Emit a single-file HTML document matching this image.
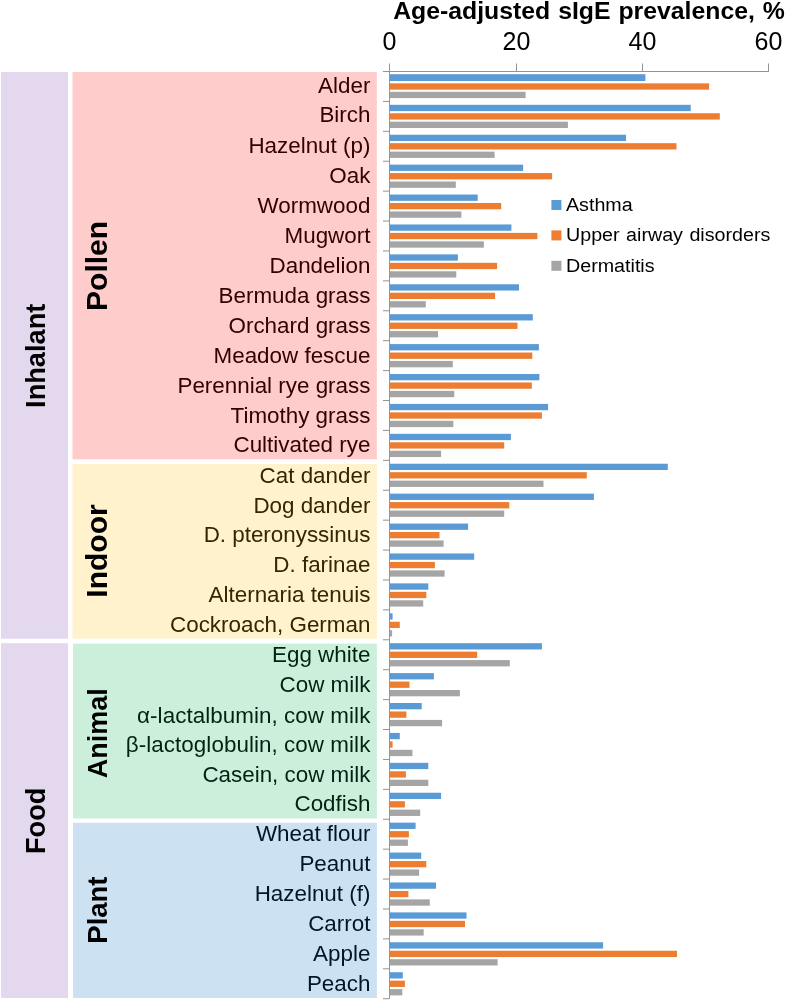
<!DOCTYPE html>
<html lang="en"><head><meta charset="utf-8"><title>Age-adjusted sIgE prevalence</title>
<style>
html,body{margin:0;padding:0;background:#fff;}
body{width:785px;height:1000px;overflow:hidden;}
svg{display:block;font-family:"Liberation Sans",Arial,sans-serif;}
.lab{font-size:22.4px;text-anchor:end;}
.ax{font-size:26.5px;text-anchor:middle;fill:#000;}
.ttl{font-size:24.8px;font-weight:bold;fill:#000;}
.g1{font-size:27.2px;font-weight:bold;text-anchor:middle;fill:#000;}
.g2{font-size:30px;font-weight:bold;text-anchor:middle;fill:#000;}
.leg{font-size:19.2px;fill:#000;}
</style></head><body>
<svg width="785" height="1000" viewBox="0 0 785 1000">
<rect width="785" height="1000" fill="#fff"/>

<rect x="1" y="72" width="67" height="566.7" fill="#E3D8ED"/>
<rect x="1" y="643.2" width="67" height="354.8" fill="#E3D8ED"/>
<rect x="72.5" y="72" width="304.4" height="387.3" fill="#FFCCCC"/>
<rect x="72.5" y="464" width="304.4" height="174.6" fill="#FFF2CC"/>
<rect x="73.0" y="643.6" width="303.9" height="174.9" fill="#CCEFDC"/>
<rect x="73.0" y="822.8" width="303.9" height="175.2" fill="#CCE2F2"/>
<text class="g1" transform="translate(44.7 355.8) rotate(-90)">Inhalant</text>
<text class="g1" transform="translate(44.6 820.8) rotate(-90)">Food</text>
<text class="g2" transform="translate(107.0 265.9) rotate(-90)">Pollen</text>
<text class="g2" transform="translate(107.0 551.0) rotate(-90)">Indoor</text>
<text class="g2" style="font-size:27px" transform="translate(106.5 733.2) rotate(-90)">Animal</text>
<text class="g2" style="font-size:27.5px" transform="translate(106.6 910.1) rotate(-90)">Plant</text>
<text class="ttl" x="393.2" y="18.8" word-spacing="1">Age-adjusted sIgE prevalence, %</text>
<text class="ax" transform="translate(389.5 49.6) scale(0.945 1)">0</text>
<text class="ax" transform="translate(516.5 49.6) scale(0.945 1)">20</text>
<text class="ax" transform="translate(642.5 49.6) scale(0.945 1)">40</text>
<text class="ax" transform="translate(768.5 49.6) scale(0.945 1)">60</text>
<g stroke="#939393" stroke-width="1" fill="none">
<line x1="389.5" y1="63.5" x2="389.5" y2="998.7" stroke="#969696"/>
<line x1="383" y1="71.5" x2="769" y2="71.5"/>
<line x1="516.5" y1="63.5" x2="516.5" y2="71.5"/>
<line x1="642.5" y1="63.5" x2="642.5" y2="71.5"/>
<line x1="768.5" y1="63.5" x2="768.5" y2="71.5"/>
<line x1="383" y1="101.41" x2="389.5" y2="101.41"/>
<line x1="383" y1="131.32" x2="389.5" y2="131.32"/>
<line x1="383" y1="161.23" x2="389.5" y2="161.23"/>
<line x1="383" y1="191.14" x2="389.5" y2="191.14"/>
<line x1="383" y1="221.05" x2="389.5" y2="221.05"/>
<line x1="383" y1="250.96" x2="389.5" y2="250.96"/>
<line x1="383" y1="280.87" x2="389.5" y2="280.87"/>
<line x1="383" y1="310.78" x2="389.5" y2="310.78"/>
<line x1="383" y1="340.69" x2="389.5" y2="340.69"/>
<line x1="383" y1="370.60" x2="389.5" y2="370.60"/>
<line x1="383" y1="400.51" x2="389.5" y2="400.51"/>
<line x1="383" y1="430.42" x2="389.5" y2="430.42"/>
<line x1="383" y1="460.33" x2="389.5" y2="460.33"/>
<line x1="383" y1="490.24" x2="389.5" y2="490.24"/>
<line x1="383" y1="520.15" x2="389.5" y2="520.15"/>
<line x1="383" y1="550.06" x2="389.5" y2="550.06"/>
<line x1="383" y1="579.97" x2="389.5" y2="579.97"/>
<line x1="383" y1="609.88" x2="389.5" y2="609.88"/>
<line x1="383" y1="639.79" x2="389.5" y2="639.79"/>
<line x1="383" y1="669.70" x2="389.5" y2="669.70"/>
<line x1="383" y1="699.61" x2="389.5" y2="699.61"/>
<line x1="383" y1="729.52" x2="389.5" y2="729.52"/>
<line x1="383" y1="759.43" x2="389.5" y2="759.43"/>
<line x1="383" y1="789.34" x2="389.5" y2="789.34"/>
<line x1="383" y1="819.25" x2="389.5" y2="819.25"/>
<line x1="383" y1="849.16" x2="389.5" y2="849.16"/>
<line x1="383" y1="879.07" x2="389.5" y2="879.07"/>
<line x1="383" y1="908.98" x2="389.5" y2="908.98"/>
<line x1="383" y1="938.89" x2="389.5" y2="938.89"/>
<line x1="383" y1="968.80" x2="389.5" y2="968.80"/>
<line x1="383" y1="998.71" x2="389.5" y2="998.71"/>
</g>
<rect x="390.0" y="74.20" width="255.4" height="6.8" fill="#5B9BD5"/>
<rect x="390.0" y="83.35" width="319.1" height="6.3" fill="#ED7D31"/>
<rect x="390.0" y="91.80" width="135.6" height="6.3" fill="#A5A5A5"/>
<text class="lab" x="370.4" y="92.50" fill="#330000">Alder</text>
<rect x="390.0" y="104.81" width="300.7" height="6.3" fill="#5B9BD5"/>
<rect x="390.0" y="113.26" width="329.8" height="6.3" fill="#ED7D31"/>
<rect x="390.0" y="121.71" width="177.9" height="6.3" fill="#A5A5A5"/>
<text class="lab" x="370.4" y="122.31" fill="#330000">Birch</text>
<rect x="390.0" y="134.72" width="236.0" height="6.3" fill="#5B9BD5"/>
<rect x="390.0" y="143.17" width="286.5" height="6.3" fill="#ED7D31"/>
<rect x="390.0" y="151.62" width="104.6" height="6.3" fill="#A5A5A5"/>
<text class="lab" x="370.4" y="152.62" fill="#330000">Hazelnut (p)</text>
<rect x="390.0" y="164.63" width="133.1" height="6.3" fill="#5B9BD5"/>
<rect x="390.0" y="173.08" width="162.1" height="6.3" fill="#ED7D31"/>
<rect x="390.0" y="181.53" width="65.8" height="6.3" fill="#A5A5A5"/>
<text class="lab" x="370.4" y="183.08" fill="#330000">Oak</text>
<rect x="390.0" y="194.54" width="87.7" height="6.3" fill="#5B9BD5"/>
<rect x="390.0" y="202.99" width="111.2" height="6.3" fill="#ED7D31"/>
<rect x="390.0" y="211.44" width="71.4" height="6.3" fill="#A5A5A5"/>
<text class="lab" x="370.4" y="213.14" fill="#330000">Wormwood</text>
<rect x="390.0" y="224.45" width="121.4" height="6.3" fill="#5B9BD5"/>
<rect x="390.0" y="232.90" width="147.4" height="6.3" fill="#ED7D31"/>
<rect x="390.0" y="241.35" width="93.9" height="6.3" fill="#A5A5A5"/>
<text class="lab" x="370.4" y="243.05" fill="#330000">Mugwort</text>
<rect x="390.0" y="254.36" width="67.9" height="6.3" fill="#5B9BD5"/>
<rect x="390.0" y="262.81" width="107.1" height="6.3" fill="#ED7D31"/>
<rect x="390.0" y="271.26" width="66.3" height="6.3" fill="#A5A5A5"/>
<text class="lab" x="370.4" y="272.96" fill="#330000">Dandelion</text>
<rect x="390.0" y="284.27" width="129.0" height="6.3" fill="#5B9BD5"/>
<rect x="390.0" y="292.72" width="105.1" height="6.3" fill="#ED7D31"/>
<rect x="390.0" y="301.17" width="35.8" height="6.3" fill="#A5A5A5"/>
<text class="lab" x="370.4" y="302.87" fill="#330000">Bermuda grass</text>
<rect x="390.0" y="314.18" width="142.8" height="6.3" fill="#5B9BD5"/>
<rect x="390.0" y="322.63" width="127.5" height="6.3" fill="#ED7D31"/>
<rect x="390.0" y="331.08" width="48.0" height="6.3" fill="#A5A5A5"/>
<text class="lab" x="370.4" y="332.78" fill="#330000">Orchard grass</text>
<rect x="390.0" y="344.09" width="148.9" height="6.3" fill="#5B9BD5"/>
<rect x="390.0" y="352.54" width="142.3" height="6.3" fill="#ED7D31"/>
<rect x="390.0" y="360.99" width="62.8" height="6.3" fill="#A5A5A5"/>
<text class="lab" x="370.4" y="362.69" fill="#330000">Meadow fescue</text>
<rect x="390.0" y="374.00" width="149.4" height="6.3" fill="#5B9BD5"/>
<rect x="390.0" y="382.45" width="141.8" height="6.3" fill="#ED7D31"/>
<rect x="390.0" y="390.90" width="64.3" height="6.3" fill="#A5A5A5"/>
<text class="lab" x="370.4" y="392.60" fill="#330000">Perennial rye grass</text>
<rect x="390.0" y="403.91" width="158.1" height="6.3" fill="#5B9BD5"/>
<rect x="390.0" y="412.36" width="151.9" height="6.3" fill="#ED7D31"/>
<rect x="390.0" y="420.81" width="63.3" height="6.3" fill="#A5A5A5"/>
<text class="lab" x="370.4" y="422.51" fill="#330000">Timothy grass</text>
<rect x="390.0" y="433.82" width="120.9" height="6.3" fill="#5B9BD5"/>
<rect x="390.0" y="442.27" width="114.2" height="6.3" fill="#ED7D31"/>
<rect x="390.0" y="450.72" width="51.1" height="6.3" fill="#A5A5A5"/>
<text class="lab" x="370.4" y="452.42" fill="#330000">Cultivated rye</text>
<rect x="390.0" y="463.73" width="277.8" height="6.3" fill="#5B9BD5"/>
<rect x="390.0" y="472.18" width="196.8" height="6.3" fill="#ED7D31"/>
<rect x="390.0" y="480.63" width="153.5" height="6.3" fill="#A5A5A5"/>
<text class="lab" x="370.4" y="482.63" fill="#332600">Cat dander</text>
<rect x="390.0" y="493.64" width="203.9" height="6.3" fill="#5B9BD5"/>
<rect x="390.0" y="502.09" width="119.3" height="6.3" fill="#ED7D31"/>
<rect x="390.0" y="510.54" width="114.2" height="6.3" fill="#A5A5A5"/>
<text class="lab" x="370.4" y="512.54" fill="#332600">Dog dander</text>
<rect x="390.0" y="523.55" width="78.1" height="6.3" fill="#5B9BD5"/>
<rect x="390.0" y="532.00" width="49.5" height="6.3" fill="#ED7D31"/>
<rect x="390.0" y="540.45" width="53.6" height="6.3" fill="#A5A5A5"/>
<text class="lab" x="370.4" y="542.45" fill="#332600">D. pteronyssinus</text>
<rect x="390.0" y="553.46" width="84.2" height="6.3" fill="#5B9BD5"/>
<rect x="390.0" y="561.91" width="44.9" height="6.3" fill="#ED7D31"/>
<rect x="390.0" y="570.36" width="54.6" height="6.3" fill="#A5A5A5"/>
<text class="lab" x="370.4" y="572.36" fill="#332600">D. farinae</text>
<rect x="390.0" y="583.37" width="38.3" height="6.3" fill="#5B9BD5"/>
<rect x="390.0" y="591.82" width="36.3" height="6.3" fill="#ED7D31"/>
<rect x="390.0" y="600.27" width="33.2" height="6.3" fill="#A5A5A5"/>
<text class="lab" x="370.4" y="602.27" fill="#332600">Alternaria tenuis</text>
<rect x="390.0" y="613.28" width="2.6" height="6.3" fill="#5B9BD5"/>
<rect x="390.0" y="621.73" width="9.8" height="6.3" fill="#ED7D31"/>
<rect x="390.0" y="630.18" width="2.1" height="6.3" fill="#A5A5A5"/>
<text class="lab" x="370.4" y="632.18" fill="#332600">Cockroach, German</text>
<rect x="390.0" y="643.19" width="151.9" height="6.3" fill="#5B9BD5"/>
<rect x="390.0" y="651.64" width="87.2" height="6.3" fill="#ED7D31"/>
<rect x="390.0" y="660.09" width="119.8" height="6.3" fill="#A5A5A5"/>
<text class="lab" x="370.4" y="661.79" fill="#002310">Egg white</text>
<rect x="390.0" y="673.10" width="43.9" height="6.3" fill="#5B9BD5"/>
<rect x="390.0" y="681.55" width="19.5" height="6.3" fill="#ED7D31"/>
<rect x="390.0" y="690.00" width="69.9" height="6.3" fill="#A5A5A5"/>
<text class="lab" x="370.4" y="691.70" fill="#002310">Cow milk</text>
<rect x="390.0" y="703.01" width="31.7" height="6.3" fill="#5B9BD5"/>
<rect x="390.0" y="711.46" width="16.4" height="6.3" fill="#ED7D31"/>
<rect x="390.0" y="719.91" width="52.1" height="6.3" fill="#A5A5A5"/>
<text class="lab" letter-spacing="0.06" x="370.4" y="722.51" fill="#002310">α-lactalbumin, cow milk</text>
<rect x="390.0" y="732.92" width="9.8" height="6.3" fill="#5B9BD5"/>
<rect x="390.0" y="741.37" width="2.6" height="6.3" fill="#ED7D31"/>
<rect x="390.0" y="749.82" width="22.5" height="6.3" fill="#A5A5A5"/>
<text class="lab" letter-spacing="0.06" x="370.4" y="752.12" fill="#002310">β-lactoglobulin, cow milk</text>
<rect x="390.0" y="762.83" width="38.3" height="6.3" fill="#5B9BD5"/>
<rect x="390.0" y="771.28" width="15.9" height="6.3" fill="#ED7D31"/>
<rect x="390.0" y="779.73" width="38.3" height="6.3" fill="#A5A5A5"/>
<text class="lab" x="370.4" y="781.68" fill="#002310">Casein, cow milk</text>
<rect x="390.0" y="792.74" width="51.1" height="6.3" fill="#5B9BD5"/>
<rect x="390.0" y="801.19" width="14.9" height="6.3" fill="#ED7D31"/>
<rect x="390.0" y="809.64" width="30.2" height="6.3" fill="#A5A5A5"/>
<text class="lab" x="370.4" y="811.34" fill="#002310">Codfish</text>
<rect x="390.0" y="822.65" width="25.6" height="6.3" fill="#5B9BD5"/>
<rect x="390.0" y="831.10" width="18.9" height="6.3" fill="#ED7D31"/>
<rect x="390.0" y="839.55" width="17.9" height="6.3" fill="#A5A5A5"/>
<text class="lab" x="370.4" y="841.45" fill="#001626">Wheat flour</text>
<rect x="390.0" y="852.56" width="31.2" height="6.3" fill="#5B9BD5"/>
<rect x="390.0" y="861.01" width="36.3" height="6.3" fill="#ED7D31"/>
<rect x="390.0" y="869.46" width="29.1" height="6.3" fill="#A5A5A5"/>
<text class="lab" x="370.4" y="871.16" fill="#001626">Peanut</text>
<rect x="390.0" y="882.47" width="46.0" height="6.3" fill="#5B9BD5"/>
<rect x="390.0" y="890.92" width="18.4" height="6.3" fill="#ED7D31"/>
<rect x="390.0" y="899.37" width="39.8" height="6.3" fill="#A5A5A5"/>
<text class="lab" x="370.4" y="901.37" fill="#001626">Hazelnut (f)</text>
<rect x="390.0" y="912.38" width="76.5" height="6.3" fill="#5B9BD5"/>
<rect x="390.0" y="920.83" width="75.0" height="6.3" fill="#ED7D31"/>
<rect x="390.0" y="929.28" width="33.7" height="6.3" fill="#A5A5A5"/>
<text class="lab" x="370.4" y="930.98" fill="#001626">Carrot</text>
<rect x="390.0" y="942.29" width="213.1" height="6.3" fill="#5B9BD5"/>
<rect x="390.0" y="950.74" width="287.0" height="6.3" fill="#ED7D31"/>
<rect x="390.0" y="959.19" width="107.6" height="6.3" fill="#A5A5A5"/>
<text class="lab" x="370.4" y="960.89" fill="#001626">Apple</text>
<rect x="390.0" y="972.20" width="12.8" height="6.3" fill="#5B9BD5"/>
<rect x="390.0" y="980.65" width="14.9" height="6.3" fill="#ED7D31"/>
<rect x="390.0" y="989.10" width="12.3" height="6.3" fill="#A5A5A5"/>
<text class="lab" x="370.4" y="990.80" fill="#001626">Peach</text>
<rect x="551.4" y="200.0" width="10" height="10" fill="#5B9BD5"/>
<text class="leg" word-spacing="1" transform="translate(566 210.9) scale(1.025 1)">Asthma</text>
<rect x="551.4" y="230.4" width="10" height="10" fill="#ED7D31"/>
<text class="leg" word-spacing="1" transform="translate(566 241.3) scale(1.025 1)">Upper airway disorders</text>
<rect x="551.4" y="260.8" width="10" height="10" fill="#A5A5A5"/>
<text class="leg" word-spacing="1" transform="translate(566 271.7) scale(1.025 1)">Dermatitis</text>
</svg>
</body></html>
